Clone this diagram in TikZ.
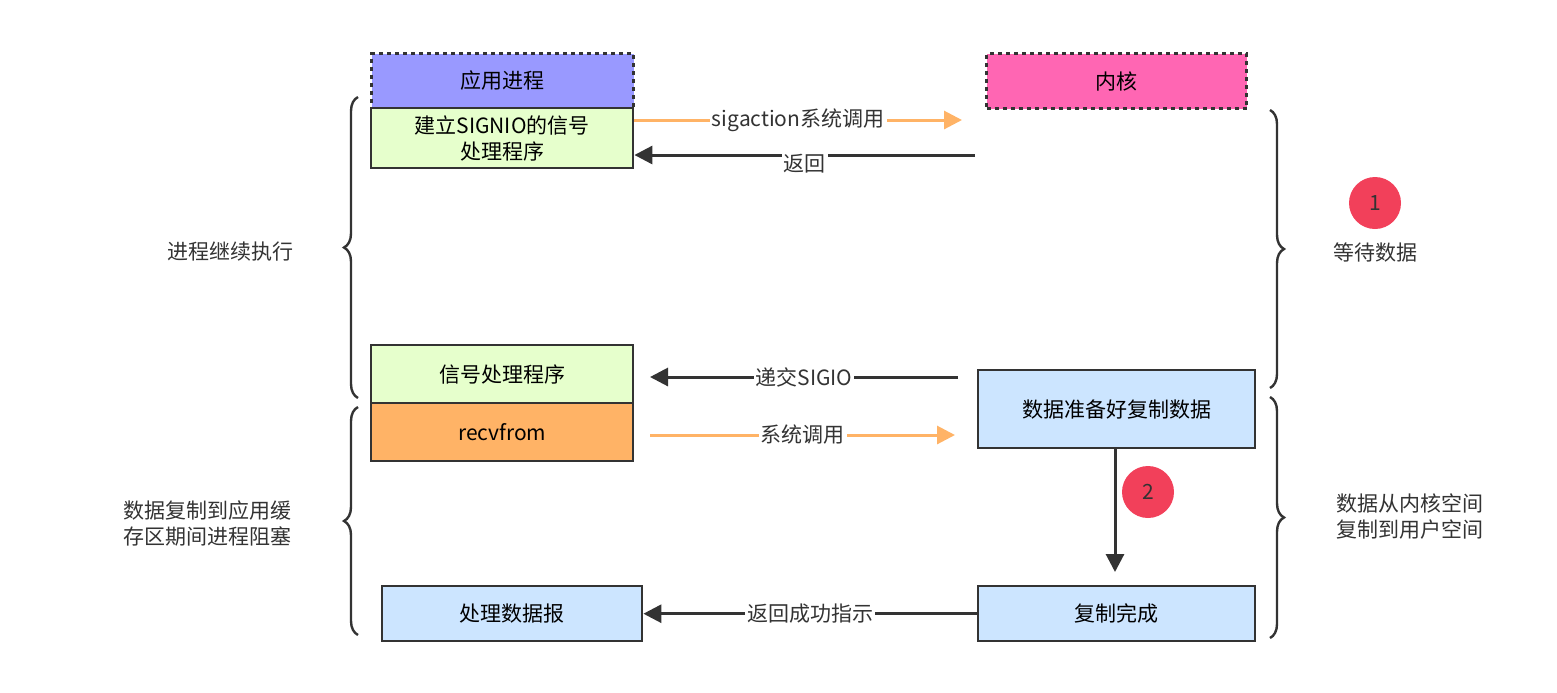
\documentclass[tikz,border=0pt]{standalone}
\usepackage{fontspec}
\setmainfont{Noto Sans CJK SC}
\usetikzlibrary{arrows.meta,decorations.pathreplacing}
\definecolor{bluebox}{HTML}{9999FF}
\definecolor{pinkbox}{HTML}{FF66B3}
\definecolor{greenbox}{HTML}{E6FFCC}
\definecolor{orangebox}{HTML}{FFB366}
\definecolor{lightblue}{HTML}{CCE5FF}
\definecolor{edge}{HTML}{333333}
\definecolor{redc}{HTML}{F2405A}
\definecolor{oarrow}{HTML}{FFB366}
\begin{document}
\begin{tikzpicture}[x=0.5pt,y=-0.5pt,font=\fontsize{10.5}{13}\selectfont,
  box/.style={draw=edge,line width=1.2pt,inner sep=0pt,anchor=north west,align=center},
  dbox/.style={box,dash pattern=on 2pt off 2pt,line width=1.5pt},
  barr/.style={draw=edge,line width=1.5pt,-{Triangle[length=9pt,width=9pt]}},
  oarr/.style={draw=oarrow,line width=1.5pt,-{Triangle[length=9pt,width=9pt]}},
  lbl/.style={fill=white,inner sep=1pt,text=edge},
  brc/.style={draw=edge,line width=1.2pt,decorate,decoration={brace,amplitude=7pt}},
  num/.style={circle,fill=redc,minimum size=26pt,inner sep=0pt,text=edge}]
\useasboundingbox (0,0) rectangle (1557,692);
\node[dbox,fill=bluebox,minimum width=131pt,minimum height=27.5pt] (app) at (370,52) {应用进程};
\node[box,fill=greenbox,minimum width=131pt,minimum height=30pt] (setup) at (370,107) {建立SIGNIO的信号\\处理程序};
\node[dbox,fill=pinkbox,minimum width=130pt,minimum height=27.5pt] (kern) at (985,52) {内核};
\node[box,fill=greenbox,minimum width=131pt,minimum height=29pt] (sig) at (370,344) {信号处理程序};
\node[box,fill=orangebox,minimum width=131pt,minimum height=29pt] (recv) at (370,402) {recvfrom};
\node[box,fill=lightblue,minimum width=138.5pt,minimum height=39pt] (ready) at (977,369) {数据准备好复制数据};
\node[box,fill=lightblue,minimum width=138.5pt,minimum height=27.5pt] (done) at (977,585) {复制完成};
\node[box,fill=lightblue,minimum width=130pt,minimum height=27.5pt] (proc) at (381,585) {处理数据报};

\coordinate (a1) at (962,120); \coordinate (b1) at (975,155);
\coordinate (a2) at (958,377); \coordinate (b2) at (955,435);
\draw[oarr] (setup.east|-a1) -- node[lbl]{sigaction系统调用} (a1);
\draw[barr] (b1) -- node[lbl,below=-2pt]{返回} (setup.east|-b1);
\draw[barr] (a2) -- node[lbl]{递交SIGIO} (650,377);
\draw[oarr] (650,435) -- node[lbl]{系统调用} (b2);
\draw[barr] (ready.south-|1115,0) -- (1115,572);
\draw[barr] (done.west) -- node[lbl]{返回成功指示} (proc.east);

\node[num] (n1) at (1375,203) {1};
\node[num] (n2) at (1148,492) {2};

\draw[brc] (358,398) -- (358,97);
\draw[brc] (358,635) -- (358,407);
\draw[brc] (1270,110) -- (1270,388);
\draw[brc] (1270,397) -- (1270,638);
\node[text=edge] (t1) at (230,252) {进程继续执行};
\node[text=edge,align=center] (t2) at (207,523) {数据复制到应用缓\\存区期间进程阻塞};
\node[text=edge] (t3) at (1375,252) {等待数据};
\node[text=edge,align=center] (t4) at (1410,517) {数据从内核空间\\复制到用户空间};
\end{tikzpicture}
\end{document}
